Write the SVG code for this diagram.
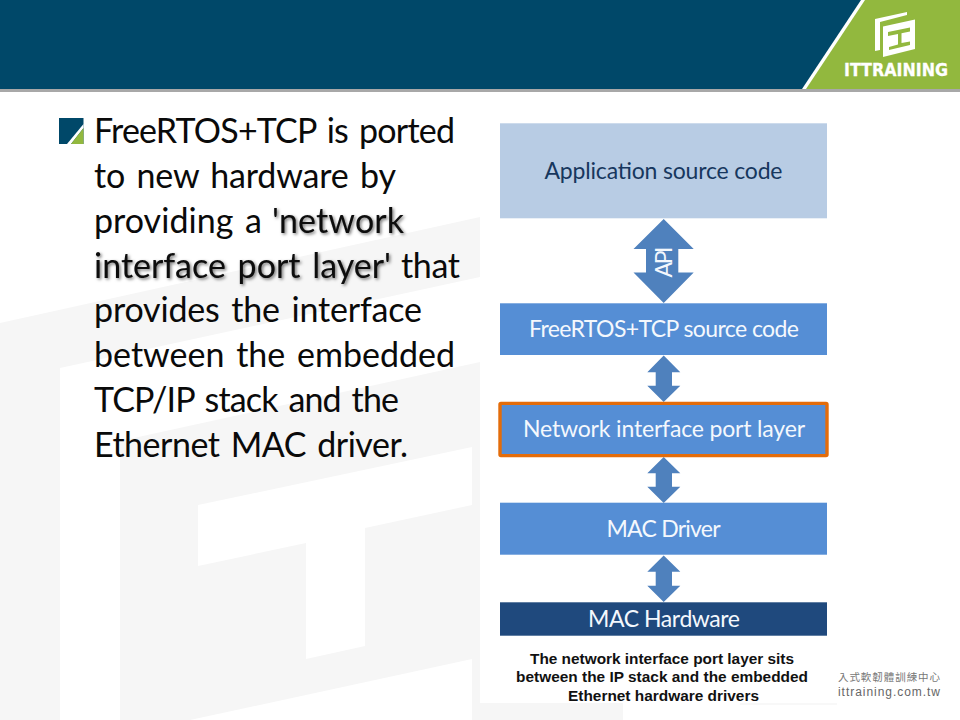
<svg xmlns="http://www.w3.org/2000/svg" width="960" height="720" viewBox="0 0 960 720">
<style>
.body{font-family:Lato,"Liberation Sans",sans-serif;font-size:34px;fill:#0a0a0a;word-spacing:3px}
.box{font-family:Lato,"Liberation Sans",sans-serif;font-size:23px;fill:#f4f8fd;text-anchor:middle}
.cap{font-family:"Liberation Sans",Arial,sans-serif;font-size:15.4px;font-weight:bold;fill:#111;text-anchor:middle}
.wm{fill:#f6f6f6}
.arrow{fill:#4f81bd}
.mid{fill:#558ed5}
</style>
<defs>
<filter id="sh" x="-5%" y="-20%" width="110%" height="150%"><feDropShadow dx="1.5" dy="1.5" stdDeviation="1.4" flood-color="#000" flood-opacity="0.55"/></filter>
</defs>
<rect width="960" height="720" fill="#fff"/>
<g id="watermark">
<polygon class="wm" points="0,323 480,217 480,277 60,368 60,720 0,720"/>
<polygon class="wm" points="120,441 480,362 622,331 622,720 120,720"/>
<polygon fill="#fff" points="198,505 472,447 472,505 365,528 365,646 306,659 306,543 198,566"/>
<polygon fill="#fff" points="190,720 472,659 472,720"/>
<rect class="wm" x="480" y="703" width="143" height="17"/>
</g>
<g id="header">
<rect width="960" height="89" fill="#004869"/>
<rect y="89" width="960" height="3" fill="#a8a8a8"/>
<polygon fill="#fff" points="861,0 867,0 808,89 802,89"/>
<polygon fill="#92b83e" points="865,0 960,0 960,89 806,89"/>
</g>
<g id="logo">
<polygon fill="#fff" points="875,19 907,12 907,15 880,22 880,50 875,51"/>
<polygon fill="#fff" points="883,26.5 915,19.5 915,49 883,57"/>
<polygon fill="#92b83e" points="888,32 910,27.5 910,31.5 901.5,33.3 901.5,43 910,41.5 910,45 889,50 889,47 898,44.6 898,34 888,36"/>
<text x="844" y="76" font-family="DejaVu Sans,sans-serif" font-weight="bold" font-size="18" fill="#fff" stroke="#fff" stroke-width="0.3" textLength="104" lengthAdjust="spacingAndGlyphs">ITTRAINING</text>
</g>
<g id="bullet">
<rect x="59" y="118" width="24.5" height="26" fill="#004869"/>
<polygon fill="#fff" points="83.5,124 83.5,128 71,144 67,144"/>
<polygon fill="#92b83e" points="83.5,128 83.5,144 71,144"/>
</g>
<g id="body-text">
<text class="body" x="94" y="143" textLength="361">FreeRTOS+TCP is ported</text>
<text class="body" x="94" y="188" textLength="302">to new hardware by</text>
<text class="body" x="94" y="233" textLength="168">providing a</text>
<text class="body" x="272" y="233" textLength="132" filter="url(#sh)">'network</text>
<text class="body" x="94" y="278" textLength="297" filter="url(#sh)">interface port layer'</text>
<text class="body" x="401" y="278" textLength="59">that</text>
<text class="body" x="94" y="322" textLength="328">provides the interface</text>
<text class="body" x="94" y="367" textLength="361">between the embedded</text>
<text class="body" x="94" y="412" textLength="305">TCP/IP stack and the</text>
<text class="body" x="94" y="457" textLength="314">Ethernet MAC driver.</text>
</g>
<g id="footer">
<text x="826.5" y="681" font-family="Noto Sans CJK TC,sans-serif" font-size="10.5" fill="#777" letter-spacing="0.95">嵌入式軟韌體訓練中心</text>
<text x="838" y="696" font-family="Liberation Sans,sans-serif" font-size="12" fill="#666" textLength="102">ittraining.com.tw</text>
</g>
<rect id="figure-ground" x="480" y="115" width="357" height="588" fill="#fff"/>
<rect x="740" y="703" width="97" height="2" fill="#f8f8f8"/>
<g id="connectors">
<polygon class="arrow" points="663.7,219 693.7,249 678.3,249 678.3,272.5 693.7,272.5 663.7,303 633.5,272.5 646,272.5 646,249 633.5,249"/>
<polygon class="arrow" points="663.7,355.5 680.3,372.3 672,372.3 672,385.7 680.3,385.7 663.7,402 647.3,385.7 655.7,385.7 655.7,372.3 647.3,372.3"/>
<polygon class="arrow" points="663.7,457 680.3,473.3 672,473.3 672,486.7 680.3,486.7 663.7,503 647.3,486.7 655.7,486.7 655.7,473.3 647.3,473.3"/>
<polygon class="arrow" points="663.7,555.5 680.3,571.7 672,571.7 672,585.7 680.3,585.7 663.7,602 647.3,585.7 655.7,585.7 655.7,571.7 647.3,571.7"/>
<text transform="translate(672,277.5) rotate(-90)" font-family="Lato,sans-serif" font-size="23" fill="#f4f8fd" textLength="31">API</text>
</g>
<g id="node-app">
<rect x="500" y="123.3" width="327" height="95" fill="#b8cce4"/>
<text class="box" x="663.5" y="179" style="fill:#17375e" textLength="238">Application source code</text>
</g>
<g id="node-freertos">
<rect class="mid" x="500" y="303.3" width="327" height="51.7"/>
<text class="box" x="664" y="337" textLength="270">FreeRTOS+TCP source code</text>
</g>
<g id="node-port">
<rect class="mid" x="500" y="403.4" width="327" height="52.2" rx="1" stroke="#e36c0a" stroke-width="3.4"/>
<text class="box" x="664" y="437" textLength="282">Network interface port layer</text>
</g>
<g id="node-driver">
<rect class="mid" x="500" y="502.7" width="327" height="52"/>
<text class="box" x="663.5" y="537" textLength="114">MAC Driver</text>
</g>
<g id="node-hardware">
<rect x="500" y="602.3" width="327" height="33.4" fill="#1f497d"/>
<text class="box" x="664" y="627" textLength="152">MAC Hardware</text>
</g>
<g id="caption">
<text class="cap" x="662" y="664" textLength="264">The network interface port layer sits</text>
<text class="cap" x="662" y="682" textLength="292">between the IP stack and the embedded</text>
<text class="cap" x="663.5" y="700.5" textLength="191">Ethernet hardware drivers</text>
</g>
</svg>
